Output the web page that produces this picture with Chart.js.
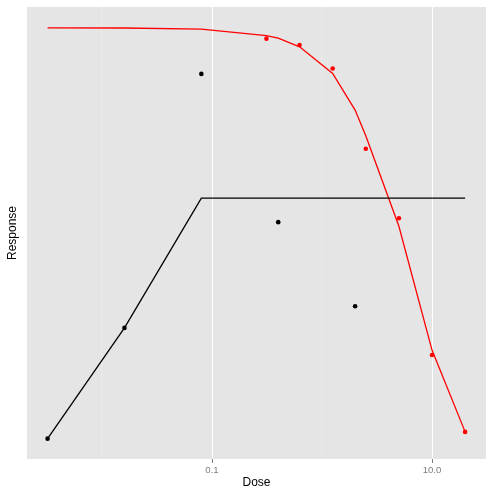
<!DOCTYPE html>
<html>
<head>
<meta charset="utf-8">
<script src="https://cdn.jsdelivr.net/npm/chart.js@4/dist/chart.umd.min.js"></script>
<style>
  html, body { margin: 0; padding: 0; background: #fff; }
  #wrap { width: 495px; height: 495px; }
</style>
</head>
<body>
<div id="wrap"><canvas id="doseChart" width="495" height="495"></canvas></div>
<script>
// doses where the fitted curves were evaluated
const curveDose = [0.0032, 0.016, 0.08, 0.3125, 0.4, 0.625, 1.25, 2, 2.5, 5, 10, 20];
const blackCurve = [4.5, 29.0, 57.7, 57.7, 57.7, 57.7, 57.7, 57.7, 57.7, 57.7, 57.7, 57.7];
const redCurve = [95.4, 95.35, 95.1, 93.65, 93.1, 91.2, 85.3, 77.2, 71.5, 51.5, 24.1, 6.0];

// observed points
const blackDose = [0.0032, 0.016, 0.08, 0.4, 2];
const blackResp = [4.5, 29.0, 85.2, 52.4, 33.8];
const redDose = [0.3125, 0.625, 1.25, 2.5, 5, 10, 20];
const redResp = [93.0, 91.6, 86.4, 68.65, 53.25, 23.0, 6.0];

const xTicks = [0.01, 0.1, 1, 10];
const xLabels = {0.1: '0.1', 10: '10.0'};

function pairs(xs, ys) {
  return xs.map((x, i) => ({x: x, y: ys[i]}));
}

const panelBg = {
  id: 'panelBg',
  beforeDraw(chart) {
    const a = chart.chartArea;
    const c = chart.ctx;
    c.save();
    c.fillStyle = '#e5e5e5';
    c.fillRect(a.left, a.top, a.right - a.left, a.bottom - a.top);
    c.restore();
  }
};

const ctx = document.getElementById('doseChart').getContext('2d');
new Chart(ctx, {
  type: 'scatter',
  data: {
    datasets: [
      {
        data: pairs(blackDose, blackResp),
        backgroundColor: '#000',
        borderColor: '#000',
        pointRadius: 2.3,
        borderWidth: 0
      },
      {
        data: pairs(redDose, redResp),
        backgroundColor: '#f00',
        borderColor: '#f00',
        pointRadius: 2.3,
        borderWidth: 0
      },
      {
        data: pairs(curveDose, blackCurve),
        showLine: true,
        borderColor: '#000',
        borderWidth: 1.3,
        pointRadius: 0,
        tension: 0
      },
      {
        data: pairs(curveDose, redCurve),
        showLine: true,
        borderColor: '#f00',
        borderWidth: 1.3,
        pointRadius: 0,
        tension: 0
      }
    ]
  },
  options: {
    responsive: false,
    animation: false,
    layout: { padding: { left: 0, right: 9, top: 7, bottom: 0 } },
    plugins: { legend: { display: false }, tooltip: { enabled: false } },
    scales: {
      x: {
        type: 'logarithmic',
        min: 0.00208,
        max: 30.96,
        border: { display: false },
        afterBuildTicks: s => { s.ticks = xTicks.map(v => ({value: v})); },
        afterFit: s => { s.height = 36; },
        grid: {
          color: c => (c.tick && xLabels[c.tick.value]) ? '#ffffff' : '#e9e9e9',
          lineWidth: c => (c.tick && xLabels[c.tick.value]) ? 1 : 1.5,
          drawTicks: true,
          tickLength: 4,
          tickColor: c => (c.tick && xLabels[c.tick.value]) ? '#7f7f7f' : 'rgba(0,0,0,0)'
        },
        ticks: {
          autoSkip: false,
          maxRotation: 0,
          padding: 2,
          color: '#7f7f7f',
          font: { family: 'Liberation Sans, Arial, sans-serif', size: 9.6 },
          callback: v => xLabels[v] || ''
        },
        title: {
          display: true,
          text: 'Dose',
          color: '#000',
          padding: { top: 0, bottom: 5.5 },
          font: { family: 'Liberation Sans, Arial, sans-serif', size: 12 }
        }
      },
      y: {
        min: 0,
        max: 100,
        border: { display: false },
        grid: { display: false },
        ticks: { display: false },
        afterFit: s => { s.width = 27; },
        title: {
          display: true,
          text: 'Response',
          color: '#000',
          padding: { top: 5, bottom: 0 },
          font: { family: 'Liberation Sans, Arial, sans-serif', size: 12 }
        }
      }
    }
  },
  plugins: [panelBg]
});
</script>
</body>
</html>
